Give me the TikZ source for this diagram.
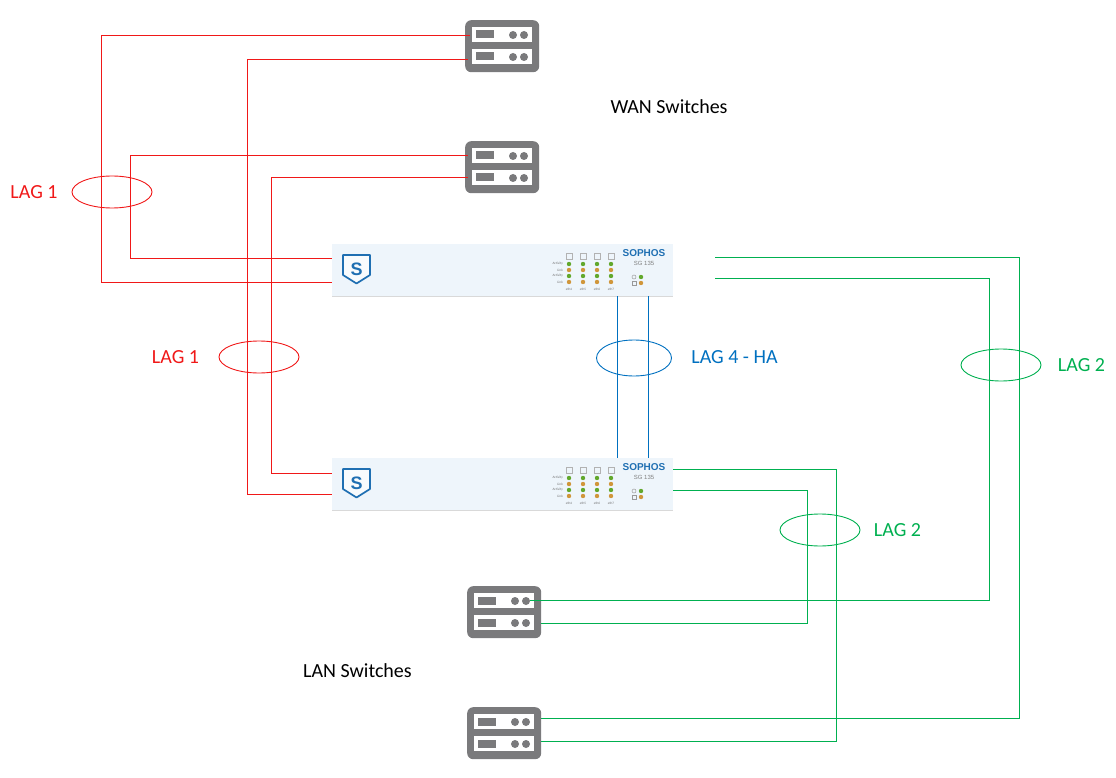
\documentclass[tikz,border=0pt]{standalone}
\usepackage{fontspec}
\setmainfont{Carlito}
\newfontfamily\headfont{Liberation Sans}
\definecolor{lagred}{HTML}{F01818}
\definecolor{lagblue}{HTML}{0070C0}
\definecolor{laggreen}{HTML}{00B050}
\definecolor{srvgray}{HTML}{7A7A7C}
\definecolor{sophblue}{HTML}{1F6FB2}
\definecolor{panelblue}{HTML}{EEF5FB}
\definecolor{ledgreen}{HTML}{62A82C}
\definecolor{ledorange}{HTML}{D0963A}
\usetikzlibrary{shapes.geometric}
\tikzset{
  redlink/.style={lagred,line width=1.2pt},
  bluelink/.style={lagblue,line width=1.2pt},
  greenlink/.style={laggreen,line width=1.2pt},
  lagring/.style={draw,ellipse,line width=0.9pt,minimum width=80pt,minimum height=32pt,inner sep=0pt},
  serverbox/.style={fill=srvgray,rounded corners=6pt,minimum width=74pt,minimum height=52pt,inner sep=0pt},
  panelbox/.style={fill=panelblue,minimum width=341pt,minimum height=52pt,inner sep=0pt},
  lagtext/.style={font=\fontsize{20}{22}\selectfont,inner sep=0pt},
  tinytext/.style={font=\fontsize{3.4}{4}\selectfont,text=black!55,inner sep=0pt}
}
\begin{document}
\begin{tikzpicture}[x=1pt,y=-1pt]
\useasboundingbox (0,0) rectangle (1116,778);

% switches
\foreach \name/\x/\y in {wanA/465/20,wanB/465/141,lanA/467/586,lanB/467/707} {
  \node[serverbox,anchor=north west] (\name) at (\x,\y) {};
  \fill[white] (\x+7,\y+7) rectangle (\x+67,\y+22);
  \fill[white] (\x+7,\y+29) rectangle (\x+67,\y+44);
  \fill[srvgray] (\x+11,\y+10.5) rectangle (\x+29,\y+18.5);
  \fill[srvgray] (\x+11,\y+32.5) rectangle (\x+29,\y+40.5);
  \fill[srvgray] (\x+48,\y+15) circle (4);
  \fill[srvgray] (\x+59,\y+15) circle (4);
  \fill[srvgray] (\x+48,\y+37) circle (4);
  \fill[srvgray] (\x+59,\y+37) circle (4);
}
\coordinate (wanA-a) at (470,35.5);
\coordinate (wanA-b) at (468,59.5);
\coordinate (wanB-a) at (468,155.5);
\coordinate (wanB-b) at (468,177.5);
\coordinate (lanA-a) at (530,600.5);
\coordinate (lanA-b) at (541,623.5);
\coordinate (lanB-a) at (541,718.5);
\coordinate (lanB-b) at (541,741.5);

% firewalls
\foreach \name/\y in {fwA/244,fwB/458} {
  \node[panelbox,anchor=north west] (\name) at (332,\y) {};
  \draw[black!15,line width=1pt] (332,\y+52) -- (673,\y+52);
  \draw[sophblue,line width=1.7pt,fill=panelblue!40!white,line join=round]
    (343,\y+11) -- (370,\y+11) -- (370,\y+31) -- (356.5,\y+39.5) -- (343,\y+31) -- cycle;
  \node[font=\bfseries\headfont\fontsize{18}{18}\selectfont,text=sophblue,inner sep=0pt] at (356.5,\y+25) {S};
  \node[font=\bfseries\headfont\fontsize{10}{10}\selectfont,text=sophblue,inner sep=0pt] at (644,\y+9.5) {SOPHOS};
  \node[font=\headfont\fontsize{6}{6}\selectfont,text=black!50,inner sep=0pt] at (644,\y+19) {SG 135};
  \foreach \col/\lab in {569/eth4,583/eth5,597/eth6,611/eth7} {
    \draw[black!30,line width=0.6pt] (\col-3,\y+9) rectangle (\col+3,\y+15);
    \fill[ledgreen] (\col,\y+20) circle (2.2);
    \fill[ledorange] (\col,\y+26) circle (2.2);
    \fill[ledgreen] (\col,\y+32) circle (2.2);
    \fill[ledorange] (\col,\y+38) circle (2.2);
    \node[tinytext] at (\col,\y+45) {\lab};
  }
  \foreach \row/\lab in {20/Activity,26/Link,32/Activity,38/Link} {
    \node[tinytext,anchor=east] at (563,\y+\row) {\lab};
  }
  \fill[ledgreen] (641,\y+33) circle (2.2);
  \fill[ledorange] (641,\y+39) circle (2.2);
  \draw[black!40,line width=0.5pt] (634,\y+33) circle (2);
  \draw[black!40,line width=0.5pt] (632,\y+37) rectangle (636,\y+41);
}
\coordinate (fwA-a) at (332,258.5);
\coordinate (fwA-b) at (332,282.5);
\coordinate (fwA-c) at (715,257.5);
\coordinate (fwA-d) at (715,278.5);
\coordinate (fwA-e) at (617.5,296);
\coordinate (fwA-f) at (648.5,296);
\coordinate (fwB-a) at (332,473.5);
\coordinate (fwB-b) at (332,494.5);
\coordinate (fwB-c) at (673,469.5);
\coordinate (fwB-d) at (673,490.5);
\coordinate (fwB-e) at (617.5,458);
\coordinate (fwB-f) at (648.5,458);

% links
\draw[redlink] (wanA-a) -- (101.5,35.5) |- (fwA-b);
\draw[redlink] (wanA-b) -- (247.5,59.5) |- (fwB-b);
\draw[redlink] (wanB-a) -- (130.5,155.5) |- (fwA-a);
\draw[redlink] (wanB-b) -- (271.5,177.5) |- (fwB-a);
\draw[bluelink] (fwA-e) -- (fwB-e);
\draw[bluelink] (fwA-f) -- (fwB-f);
\draw[greenlink] (fwA-c) -- (1019.5,257.5) |- (lanB-a);
\draw[greenlink] (fwA-d) -- (989.5,278.5) |- (lanA-a);
\draw[greenlink] (fwB-c) -- (836.5,469.5) |- (lanB-b);
\draw[greenlink] (fwB-d) -- (807.5,490.5) |- (lanA-b);

% lag rings
\node[lagring,lagred] (ringA) at (112,192) {};
\node[lagring,lagred] (ringB) at (259,357) {};
\node[lagring,lagblue,minimum width=75pt,minimum height=36pt] (ringC) at (634,358) {};
\node[lagring,laggreen] (ringD) at (1001,365) {};
\node[lagring,laggreen] (ringE) at (820,530) {};

% labels
\node[lagtext,text=lagred] (lagA) at (34,192) {LAG 1};
\node[lagtext,text=lagred] (lagB) at (175.5,357) {LAG 1};
\node[lagtext,text=lagblue] (lagC) at (734.5,357) {LAG 4 - HA};
\node[lagtext,text=laggreen] (lagD) at (1081.5,365) {LAG 2};
\node[lagtext,text=laggreen] (lagE) at (897.5,530) {LAG 2};
\node[lagtext] (wanText) at (669,106.5) {WAN Switches};
\node[lagtext] (lanText) at (357.5,671) {LAN Switches};
\end{tikzpicture}
\end{document}
